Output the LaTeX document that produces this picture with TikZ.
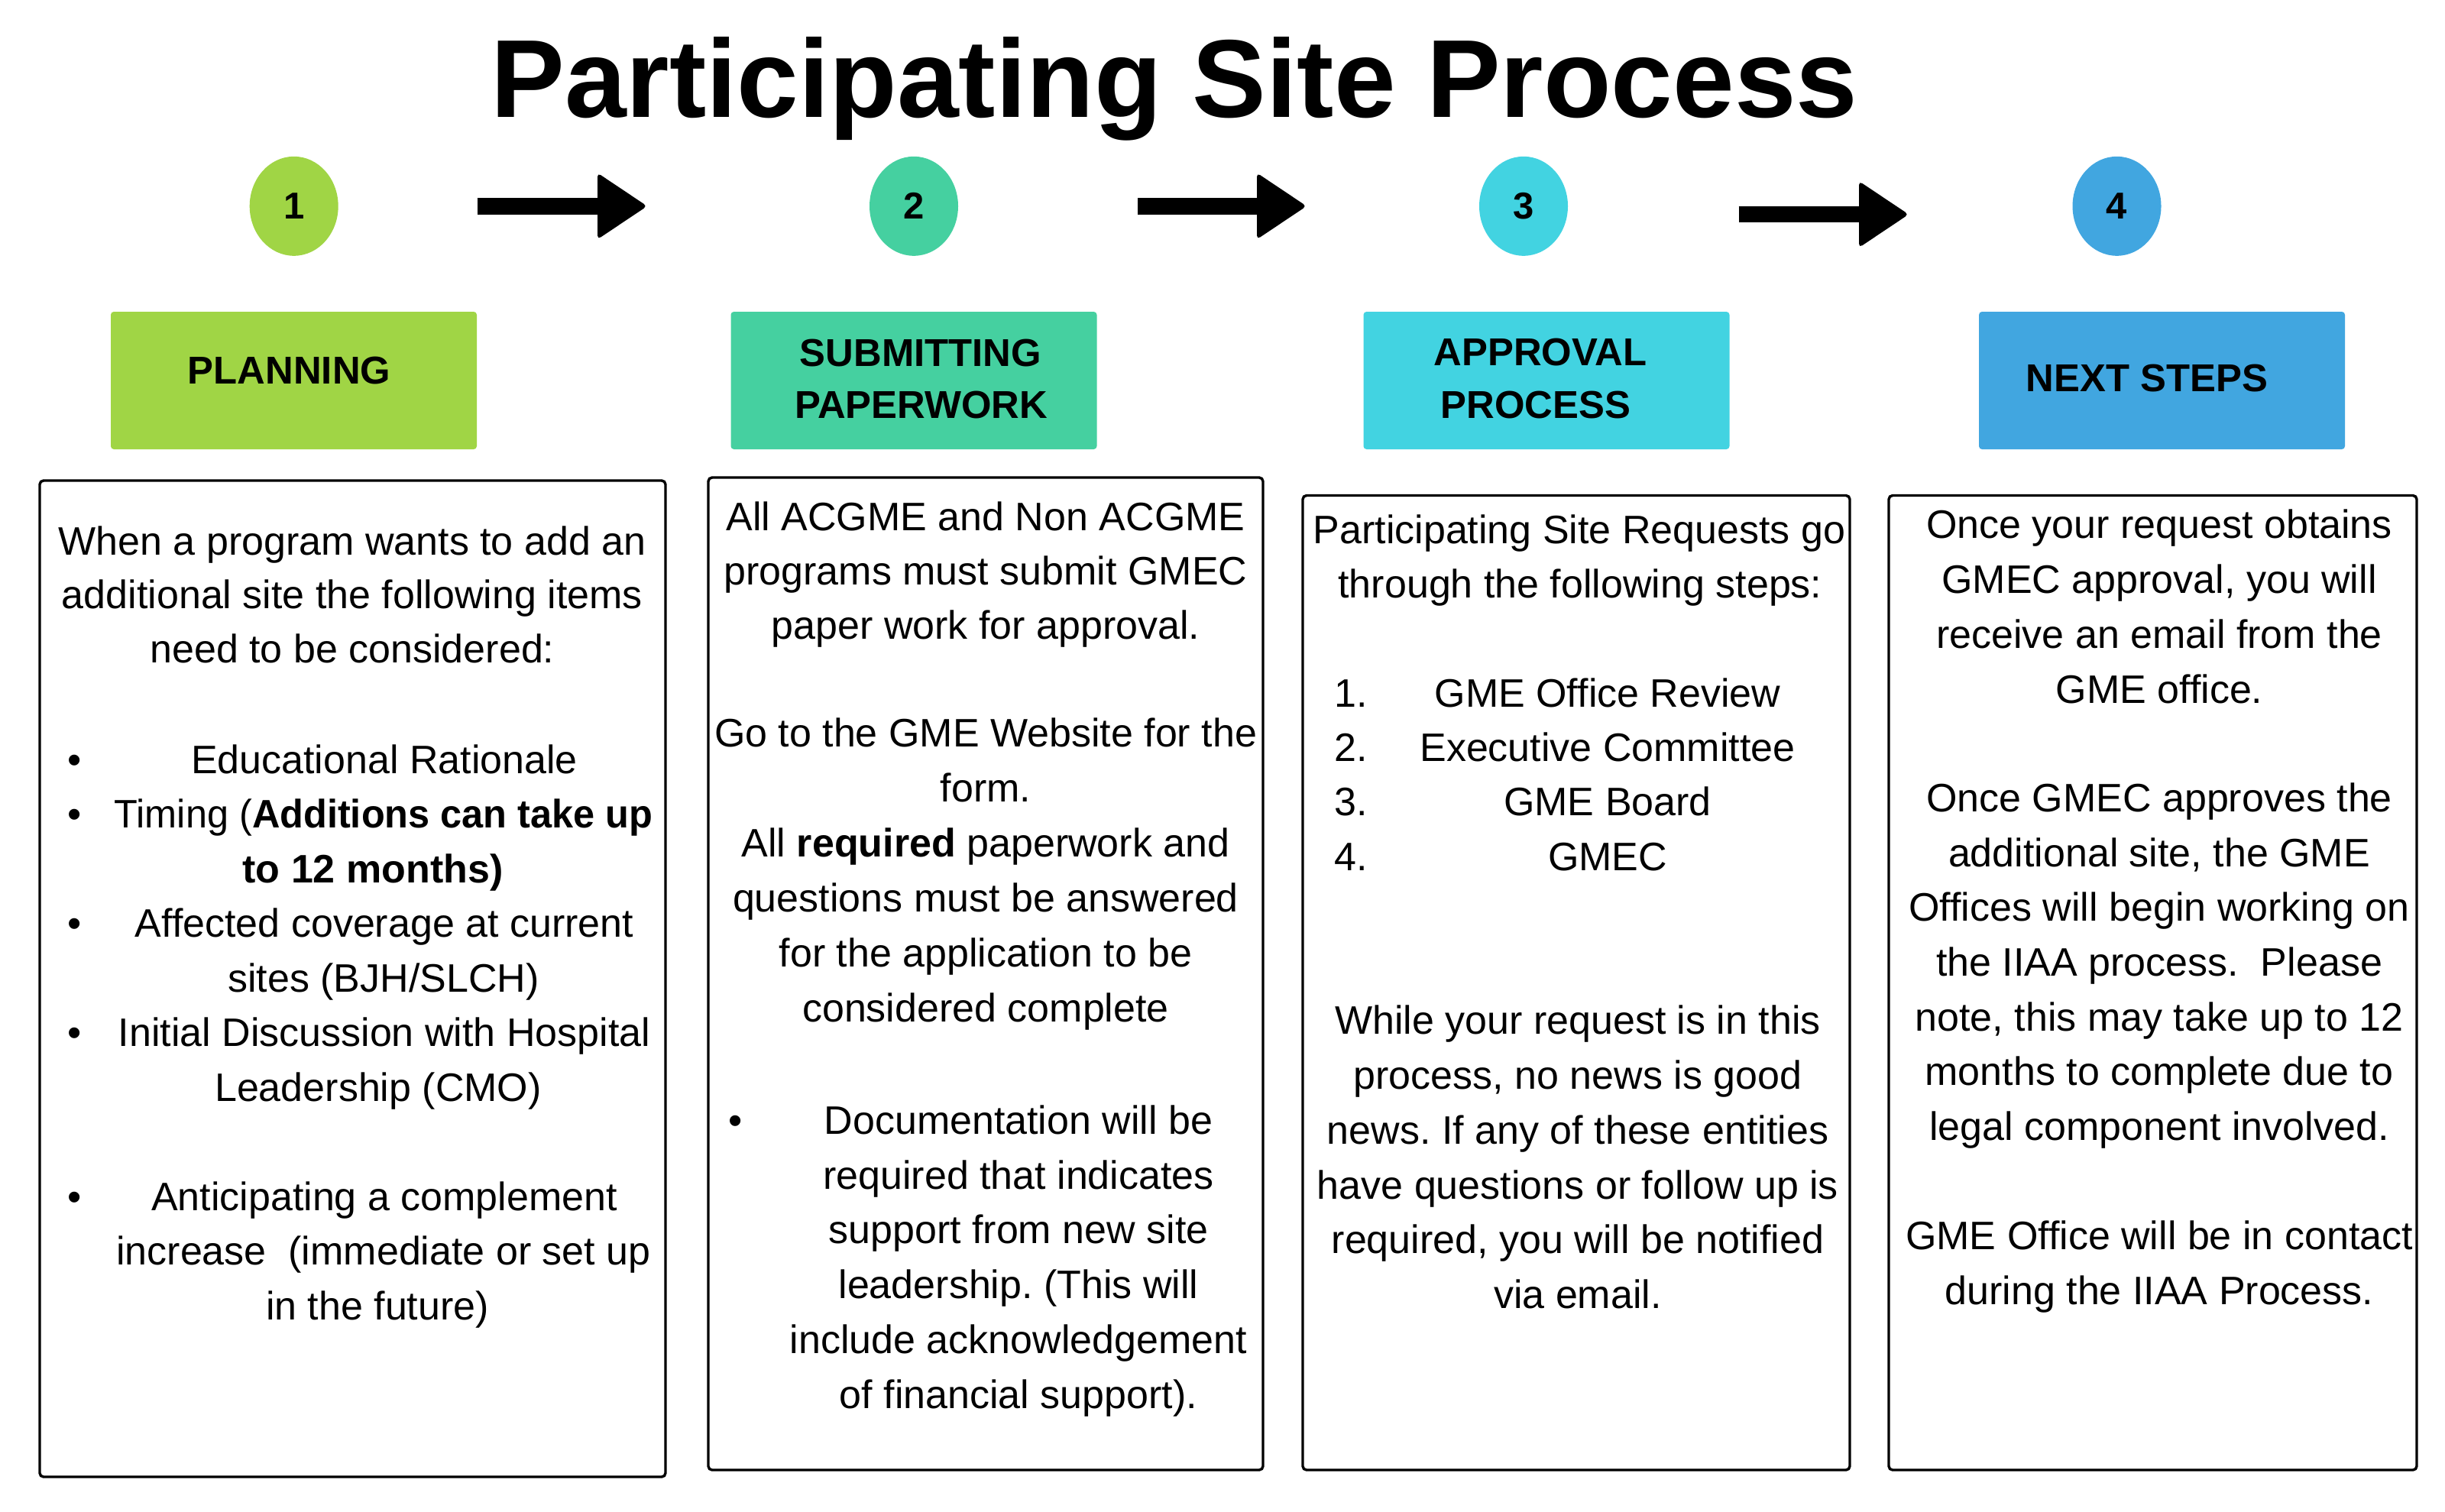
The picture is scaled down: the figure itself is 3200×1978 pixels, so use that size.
\documentclass[tikz,border=0pt]{standalone}
\usepackage{fontspec}
\setmainfont{Liberation Sans}
\usetikzlibrary{shapes.geometric,calc}
\definecolor{cgreen}{HTML}{A0D545}
\definecolor{cteal}{HTML}{45D0A0}
\definecolor{ccyan}{HTML}{42D3E1}
\definecolor{cblue}{HTML}{41A6E0}
\frenchspacing
\newcommand\bodyfont{\fontsize{26pt}{35.75pt}\selectfont}
\newcommand\tline[4]{\node[tx] (#1) at (#2,#3) {#4};}
\newcommand\hdline[4]{\node[htx] (#1) at (#2,#3) {#4};}
\newcommand\fatarrow[2]{%
  \draw[shaft] (#1) -- ($(#2)+(-60,0)$);
  \fill[rounded corners=2.5pt] ($(#2)+(-65,-43.5)$) -- (#2) -- ($(#2)+(-65,43.5)$) -- cycle;}
\begin{document}
\begin{tikzpicture}[x=0.5pt,y=-0.5pt,
  tx/.style={anchor=base,inner sep=0pt,font=\bodyfont},
  htx/.style={anchor=base,inner sep=0pt,font=\fontsize{25.4pt}{30pt}\selectfont\bfseries},
  hdr/.style={rectangle,rounded corners=2pt,minimum width=239.5pt,minimum height=90pt,inner sep=0pt},
  circ/.style={ellipse,minimum width=58pt,minimum height=65pt,inner sep=0pt,font=\fontsize{24.5pt}{28pt}\selectfont\bfseries},
  bbox/.style={rectangle,draw=black,line width=1.7pt,rounded corners=2.5pt,inner sep=0pt},
  shaft/.style={line width=10.85pt}]
\useasboundingbox (0,0) rectangle (3200,1978);
\fill[white] (0,0) rectangle (3200,1978);

% title
\node[anchor=base,inner sep=0pt,font=\fontsize{72.5pt}{80pt}\selectfont\bfseries] (title) at (1537,153.4) {Participating Site Process};

% step circles
\node[circ,fill=cgreen] (c1) at (384.7,269.8) {1};
\node[circ,fill=cteal]  (c2) at (1196,269.8) {2};
\node[circ,fill=ccyan]  (c3) at (1994,269.8) {3};
\node[circ,fill=cblue]  (c4) at (2770.5,269.8) {4};

% arrows
\coordinate (a1s) at (624.5,269.8); \coordinate (a1e) at (847,269.8);
\coordinate (a2s) at (1489,269.8);  \coordinate (a2e) at (1710,269.8);
\coordinate (a3s) at (2275.5,280.6); \coordinate (a3e) at (2498,280.6);
\fatarrow{a1s}{a1e}
\fatarrow{a2s}{a2e}
\fatarrow{a3s}{a3e}

% header boxes
\node[hdr,fill=cgreen] (h1) at (384.5,498) {};
\node[hdr,fill=cteal]  (h2) at (1196,498) {};
\node[hdr,fill=ccyan]  (h3) at (2024,498) {};
\node[hdr,fill=cblue]  (h4) at (2829.5,498) {};
\hdline{h1a}{378.6}{502.8}{PLANNING}
\hdline{h2a}{1205}{479}{SUBMITTING}
\hdline{h2b}{1205.6}{547.4}{PAPERWORK}
\hdline{h3a}{2016}{478}{APPROVAL}
\hdline{h3b}{2010}{547.4}{PROCESS}
\hdline{h4a}{2810}{512.6}{NEXT STEPS}

% body boxes
\node[bbox,minimum width=409.5pt,minimum height=652pt] (bx1) at (461.5,1281) {};
\node[bbox,minimum width=363pt,minimum height=649.5pt] (bx2) at (1290,1274.5) {};
\node[bbox,minimum width=358pt,minimum height=637.75pt] (bx3) at (2063,1286.25) {};
\node[bbox,minimum width=345.5pt,minimum height=637.75pt] (bx4) at (2817.5,1286.25) {};

% box 1
\tline{p1a}{461}{726}{When a program wants to add an}
\tline{p1b}{461}{796.5}{additional site the following items}
\tline{p1c}{461}{867}{need to be considered:}
\tline{u1a}{98}{1012}{•}
\tline{p1d}{503}{1012}{Educational Rationale}
\tline{u1b}{98}{1083.5}{•}
\tline{p1e}{502}{1083.5}{\scalebox{0.97}[1]{Timing (\textbf{Additions can take up}}}
\tline{p1f}{488}{1155}{\textbf{to 12 months)}}
\tline{u1c}{98}{1226.5}{•}
\tline{p1g}{503}{1226.5}{Affected coverage at current}
\tline{p1h}{502}{1298}{sites (BJH/SLCH)}
\tline{u1d}{98}{1369.5}{•}
\tline{p1i}{503}{1369.5}{Initial Discussion with Hospital}
\tline{p1j}{495}{1441}{Leadership (CMO)}
\tline{u1e}{98}{1584}{•}
\tline{p1k}{503}{1584}{Anticipating a complement}
\tline{p1l}{502}{1655.5}{increase\ \ (immediate or set up}
\tline{p1m}{494}{1727}{in the future)}

% box 2
\tline{p2a}{1290}{694}{All ACGME and Non ACGME}
\tline{p2b}{1290}{765}{programs must submit GMEC}
\tline{p2c}{1290}{836}{paper work for approval.}
\tline{p2d}{1290}{977}{Go to the GME Website for the}
\tline{p2e}{1290}{1049}{form.}
\tline{p2f}{1290}{1121}{All \textbf{required} paperwork and}
\tline{p2g}{1290}{1193}{questions must be answered}
\tline{p2h}{1290}{1265}{for the application to be}
\tline{p2i}{1290}{1337}{considered complete}
\tline{u2a}{963}{1484}{•}
\tline{p2j}{1333}{1484}{Documentation will be}
\tline{p2k}{1333}{1556}{required that indicates}
\tline{p2l}{1333}{1627}{support from new site}
\tline{p2m}{1333}{1699}{leadership. (This will}
\tline{p2n}{1333}{1771}{include acknowledgement}
\tline{p2o}{1333}{1843}{of financial support).}

% box 3
\tline{p3a}{2067}{711}{Participating Site Requests go}
\tline{p3b}{2068}{782}{through the following steps:}
\node[tx,anchor=base east] (n1) at (1790,925.5) {1.};
\node[tx,anchor=base east] (n2) at (1790,996.5) {2.};
\node[tx,anchor=base east] (n3) at (1790,1067.5) {3.};
\node[tx,anchor=base east] (n4) at (1790,1139) {4.};
\tline{p3c}{2104}{925.5}{GME Office Review}
\tline{p3d}{2104}{996.5}{Executive Committee}
\tline{p3e}{2104}{1067.5}{GME Board}
\tline{p3f}{2104}{1139}{GMEC}
\tline{p3g}{2065}{1353.5}{While your request is in this}
\tline{p3h}{2065}{1425}{process, no news is good}
\tline{p3i}{2065}{1497}{news. If any of these entities}
\tline{p3j}{2065}{1569}{have questions or follow up is}
\tline{p3k}{2065}{1640}{required, you will be notified}
\tline{p3l}{2065}{1712}{via email.}

% box 4
\tline{p4a}{2826}{704.7}{Once your request obtains}
\tline{p4b}{2826}{776.5}{GMEC approval, you will}
\tline{p4c}{2826}{848.5}{receive an email from the}
\tline{p4d}{2826}{920}{GME office.}
\tline{p4e}{2826}{1062.5}{Once GMEC approves the}
\tline{p4f}{2826}{1134}{additional site, the GME}
\tline{p4g}{2826}{1205.5}{Offices will begin working on}
\tline{p4h}{2826}{1277}{the IIAA process.\ \ Please}
\tline{p4i}{2826}{1349}{note, this may take up to 12}
\tline{p4j}{2826}{1420.5}{months to complete due to}
\tline{p4k}{2826}{1492}{legal component involved.}
\tline{p4l}{2826}{1635.5}{GME Office will be in contact}
\tline{p4m}{2826}{1707}{during the IIAA Process.}
\end{tikzpicture}
\end{document}
